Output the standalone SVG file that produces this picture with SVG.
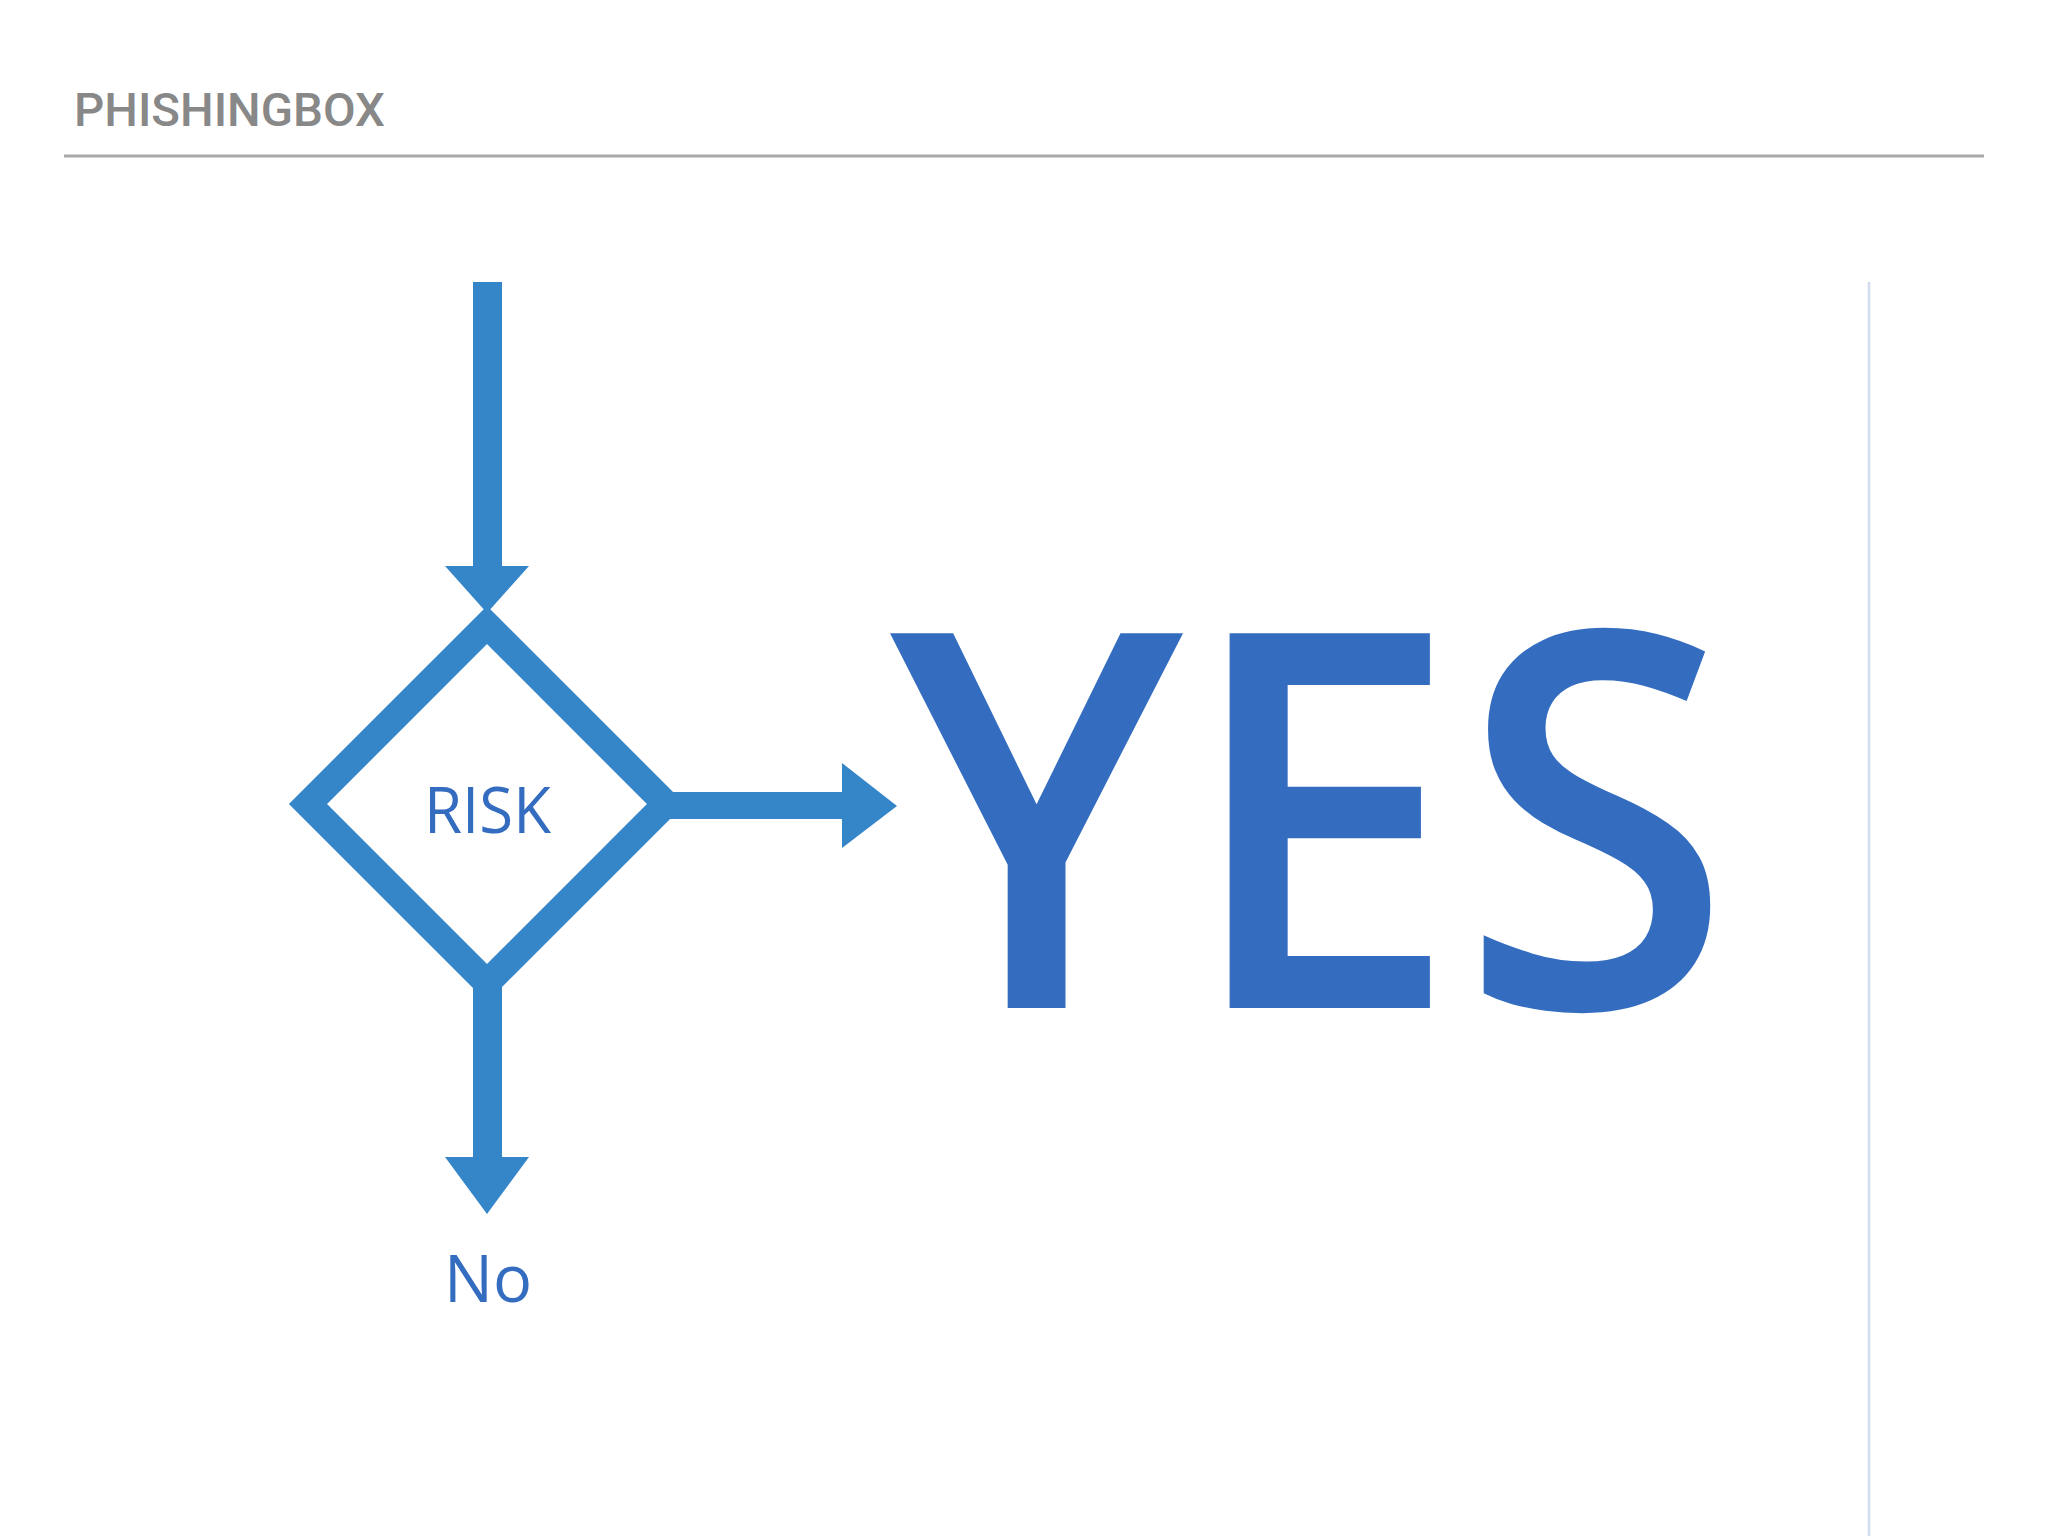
<svg xmlns="http://www.w3.org/2000/svg" width="2048" height="1536" viewBox="0 0 2048 1536">
<style>
.flow{fill:none;stroke:#3585c9}
.head{fill:#3585c9}
.lbl{fill:#346dc0;font-family:"Open Sans","Noto Sans",sans-serif}
</style>
<rect width="2048" height="1536" fill="#ffffff"/>
<g id="header">
<text x="74" y="126" font-family="Roboto,'Noto Sans',sans-serif" font-weight="500" font-size="47" fill="#888888" textLength="311" lengthAdjust="spacingAndGlyphs">PHISHINGBOX</text>
<line x1="64" y1="156" x2="1984" y2="156" stroke="#a9a9a9" stroke-width="3"/>
</g>
<line x1="1869" y1="282" x2="1869" y2="1536" stroke="#d3dcee" stroke-width="2.5"/>
<g id="connectors">
<line class="flow" x1="487.5" y1="282" x2="487.5" y2="575" stroke-width="29"/>
<polygon class="head" points="445,566 529,566 487,613"/>
<line class="flow" x1="660" y1="805.5" x2="850" y2="805.5" stroke-width="27"/>
<polygon class="head" points="842,763 897,806 842,848"/>
<line class="flow" x1="487.5" y1="975" x2="487.5" y2="1165" stroke-width="29"/>
<polygon class="head" points="445,1157 529,1157 487,1214"/>
</g>
<g id="risk">
<polygon class="flow" points="487,625 666,804 487,983 308,804" stroke-width="27" stroke-linejoin="miter"/>
<text class="lbl" x="424" y="833" font-size="64" textLength="127" lengthAdjust="spacingAndGlyphs">RISK</text>
</g>
<g id="no">
<text class="lbl" x="488" y="1302" font-size="65" text-anchor="middle">No</text>
</g>
<g id="yes">
<text class="lbl" x="890" y="1008" font-size="525" font-weight="600" textLength="842" lengthAdjust="spacingAndGlyphs">YES</text>
</g>
</svg>
